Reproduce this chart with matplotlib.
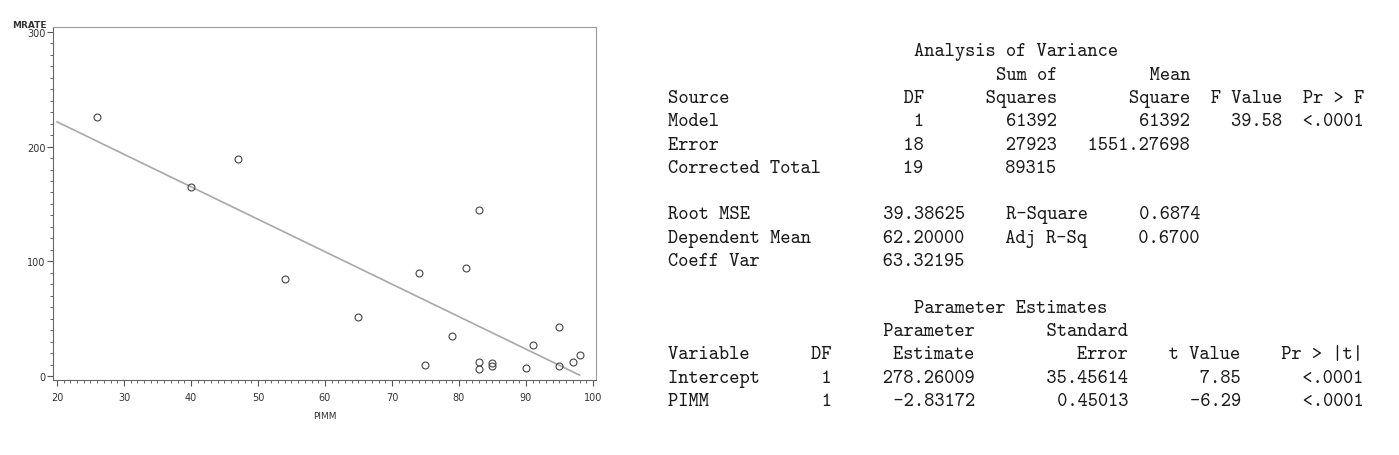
import numpy as np
import matplotlib
matplotlib.use("Agg")
import matplotlib.pyplot as plt
from matplotlib.ticker import MultipleLocator, FixedLocator

# ---------------- data ----------------
pimm = [26, 40, 47, 54, 65, 74, 75, 79, 81, 83, 83, 83, 85, 85, 90, 91, 95, 95, 97, 98]
mrate = [226, 165, 189, 85, 51, 90, 10, 35, 94, 145, 12, 6, 9, 11, 7, 27, 43, 9, 12, 18]

x_ticks = [20, 30, 40, 50, 60, 70, 80, 90, 100]
y_ticks = [0, 100, 200, 300]

# Analysis of Variance
anova_source = ["Model", "Error", "Corrected Total"]
anova_df = ["1", "18", "19"]
anova_ss = ["61392", "27923", "89315"]
anova_ms = ["61392", "1551.27698", ""]
anova_f = ["39.58", "", ""]
anova_p = ["<.0001", "", ""]

# Fit statistics
fit_labels = ["Root MSE", "Dependent Mean", "Coeff Var"]
fit_values = ["39.38625", "62.20000", "63.32195"]
fit_labels2 = ["R-Square", "Adj R-Sq", ""]
fit_values2 = ["0.6874", "0.6700", ""]

# Parameter estimates
param_vars = ["Intercept", "PIMM"]
param_df = ["1", "1"]
param_est = [278.26009, -2.83172]
param_se = ["35.45614", "0.45013"]
param_t = ["7.85", "-6.29"]
param_p = ["<.0001", "<.0001"]

# ---------------- figure ----------------
W, H = 1399, 456
fig = plt.figure(figsize=(W / 100, H / 100), dpi=100)
fig.patch.set_facecolor("white")

ax = fig.add_axes([53.3 / W, 1 - 381 / H, (596 - 53.3) / W, (381 - 28) / H])
ax.set_xlim(19.45, 100.45)
ax.set_ylim(-3.5, 304.3)

# regression line from the parameter estimates
xl = np.array([20, max(pimm)])
ax.plot(xl, param_est[0] + param_est[1] * xl, color="#a8a8a8", lw=1.2, zorder=2)
ax.plot(pimm, mrate, linestyle="none", marker="o", markersize=5,
        markerfacecolor="none", markeredgecolor="#444444", markeredgewidth=0.8, zorder=3)

for side in ["left", "bottom"]:
    ax.spines[side].set_color("#666666")
    ax.spines[side].set_linewidth(0.8)
for side in ["top", "right"]:
    ax.spines[side].set_color("#9a9a9a")
    ax.spines[side].set_linewidth(0.8)

ax.xaxis.set_major_locator(FixedLocator(x_ticks))
ax.yaxis.set_major_locator(FixedLocator(y_ticks))
ax.xaxis.set_minor_locator(MultipleLocator(1))
ax.yaxis.set_minor_locator(MultipleLocator(10))
ax.set_xticklabels([str(v) for v in x_ticks])
ax.set_yticklabels([str(v) for v in y_ticks])
ax.tick_params(axis="x", which="major", length=4, width=0.8, color="#555555",
               pad=5, labelsize=7, labelcolor="#333333")
ax.tick_params(axis="x", which="minor", length=2.5, width=0.7, color="#666666")
ax.tick_params(axis="y", which="major", length=4, width=0.8, color="#555555",
               pad=1.5, labelsize=7, labelcolor="#333333")
ax.tick_params(axis="y", which="minor", length=2.5, width=0.7, color="#666666")

ax.set_xlabel("PIMM", fontsize=6.5, color="#333333", va="center")
ax.xaxis.set_label_coords(0.5, (381 - 417) / 353)
ax.set_ylabel("MRATE", fontsize=6.5, color="#333333", rotation=0,
              ha="right", va="center", fontweight="bold")
ax.yaxis.set_label_coords((47 - 53.3) / 542.7, (381 - 25) / 353)

# ---------------- SAS-style output table ----------------
WIDTH = 72


def make_line(cells):
    buf = [" "] * WIDTH
    for text, col, align in cells:
        start = col if align == "l" else col - len(text)
        for i, ch in enumerate(text):
            buf[start + i] = ch
    return "".join(buf).rstrip()


lines = {}
lines[0] = make_line([("Analysis of Variance", 24, "l")])
lines[1] = make_line([("Sum of", 38, "r"), ("Mean", 51, "r")])
lines[2] = make_line([("Source", 0, "l"), ("DF", 25, "r"), ("Squares", 38, "r"),
                      ("Square", 51, "r"), ("F Value", 60, "r"), ("Pr > F", 68, "r")])
for i in range(3):
    lines[3 + i] = make_line([(anova_source[i], 0, "l"), (anova_df[i], 25, "r"),
                              (anova_ss[i], 38, "r"), (anova_ms[i], 51, "r"),
                              (anova_f[i], 60, "r"), (anova_p[i], 68, "r")])
for i in range(3):
    lines[7 + i] = make_line([(fit_labels[i], 0, "l"), (fit_values[i], 29, "r"),
                              (fit_labels2[i], 33, "l"), (fit_values2[i], 52, "r")])
lines[11] = make_line([("Parameter Estimates", 24, "l")])
lines[12] = make_line([("Parameter", 30, "r"), ("Standard", 45, "r")])
lines[13] = make_line([("Variable", 0, "l"), ("DF", 16, "r"), ("Estimate", 30, "r"),
                       ("Error", 45, "r"), ("t Value", 56, "r"), ("Pr > |t|", 68, "r")])
for i in range(2):
    lines[14 + i] = make_line([(param_vars[i], 0, "l"), (param_df[i], 16, "r"),
                               ("%.5f" % param_est[i], 30, "r"), (param_se[i], 45, "r"),
                               (param_t[i], 56, "r"), (param_p[i], 68, "r")])

x0 = 668
row0, row_step = 50.5, 23.3
for k, s in lines.items():
    yc = row0 + k * row_step
    fig.text(x0 / W, 1 - (yc + 5.9) / H, s, ha="left", va="baseline",
             fontfamily="cmtt10", fontsize=14.03, color="#1a1a1a")

fig.savefig("out.png", dpi=100, facecolor="white")
